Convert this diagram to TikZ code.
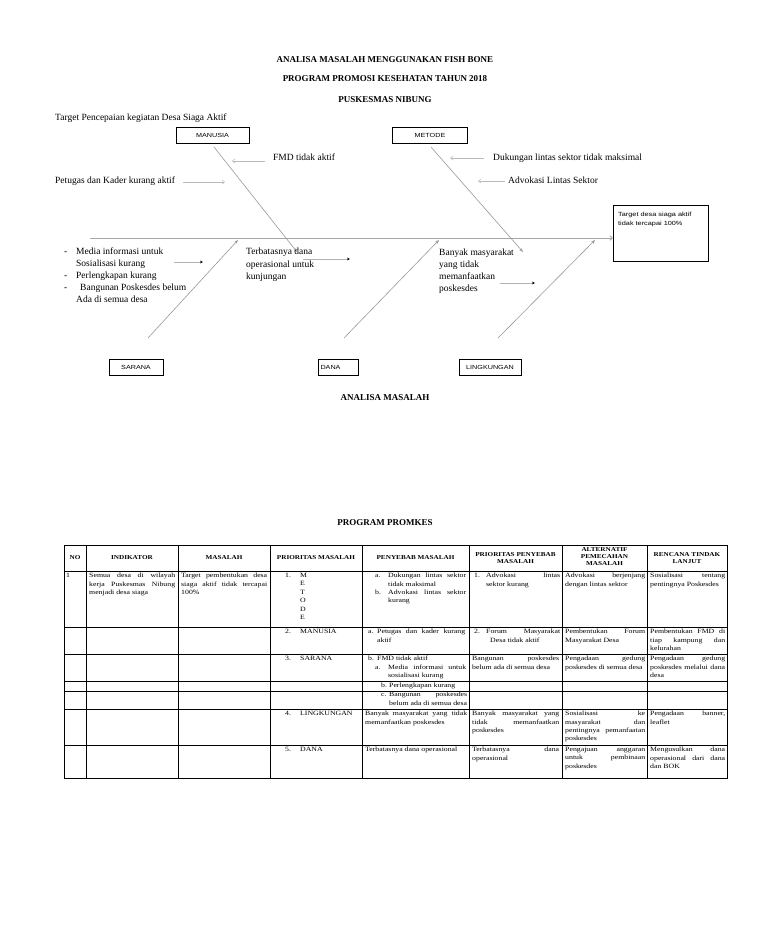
\documentclass[tikz,border=0pt]{standalone}
\usepackage{fontspec}
\setmainfont{Liberation Serif}
\newfontfamily\lblfont[FakeStretch=1.22]{Liberation Sans}
\newfontfamily\cellfont[FakeStretch=1.2]{Liberation Serif}
\usetikzlibrary{arrows.meta}
\hyphenpenalty=10000
\exhyphenpenalty=10000
\pretolerance=-1
\tolerance=9999
\hbadness=10000
\hfuzz=20pt
\newcommand{\litem}[3]{\noindent\hangindent=#1\hangafter=1\makebox[#1][l]{#2}#3\par}
\begin{document}
\begin{tikzpicture}[x=1pt,y=-1pt,
  ttl/.style={font=\fontsize{9}{10}\selectfont\bfseries, inner sep=0},
  fbt/.style={font=\fontsize{9.5}{12}\selectfont, inner sep=0, anchor=west, text height=6.6pt, text depth=2pt},
  cat/.style={draw, line width=0.7pt, font=\lblfont\fontsize{5.9}{6}\selectfont, inner sep=0, minimum height=16pt},
  tgt/.style={font=\lblfont\fontsize{6}{6}\selectfont, inner sep=0, anchor=west},
  bone/.style={draw=gray!80, line width=0.6pt, -{Stealth[length=4pt,width=3pt]}},
  spine/.style={draw=gray!70, line width=0.9pt, -{Straight Barb[length=2.5pt,width=4.5pt]}},
  tarr/.style={draw=gray!55, line width=0.5pt, -{Straight Barb[length=2.5pt,width=4pt]}},
  darr/.style={draw=gray!60, line width=0.5pt, -{Stealth[length=3pt,width=2.8pt,color=black]}},
  grid/.style={line width=0.8pt},
  cell/.style={font=\cellfont\fontsize{6.5}{8.4}\selectfont, inner sep=0, anchor=north west, align=justify},
  plain/.style={font=\cellfont\fontsize{6.5}{8.4}\selectfont, inner sep=0, anchor=north west, align=left},
  hd/.style={font=\cellfont\fontsize{6}{7.4}\selectfont\bfseries, inner sep=0, align=center}]
\useasboundingbox (0,0) rectangle (768,932);
\fill[white] (0,0) rectangle (768,932);

% ---------- titles ----------
\node[ttl] (t1) at (385,60) {ANALISA MASALAH MENGGUNAKAN FISH BONE};
\node[ttl] (t2) at (385,79) {PROGRAM PROMOSI KESEHATAN TAHUN 2018};
\node[ttl] (t3) at (385,100) {PUSKESMAS NIBUNG};
\node[fbt] (goal) at (55,118) {Target Pencepaian kegiatan Desa Siaga Aktif};

% ---------- category boxes ----------
\node[cat, minimum width=73pt] (manusia) at (212.5,135) {MANUSIA};
\node[cat, minimum width=75pt] (metode) at (430,135) {METODE};
\node[cat, minimum width=54pt] (sarana) at (136,367) {SARANA};
\node[cat, text width=35pt, inner xsep=2.5pt, align=left] (dana) at (338,367) {DANA};
\node[cat, minimum width=62pt] (lingk) at (490,367) {LINGKUNGAN};

% ---------- target box ----------
\node[draw, line width=0.8pt, minimum width=95pt, minimum height=56pt, anchor=north west, inner sep=0] (target) at (613,205) {};
\node[tgt] (tg1) at (618,215) {Target desa siaga aktif};
\node[tgt] (tg2) at (618,223.5) {tidak tercapai 100\%};

% ---------- spine ----------
\coordinate (tail) at (90,238);
\coordinate (head) at (target.west |- tail);
\draw[spine] (tail) -- (head);

% ---------- bones ----------
\coordinate (mA) at (214,147);  \coordinate (mB) at (297,252);
\coordinate (tA) at (431,147);  \coordinate (tB) at (523,252);
\coordinate (sA) at (148,338);  \coordinate (sB) at (238,240);
\coordinate (dA) at (344,338);  \coordinate (dB) at (439,240);
\coordinate (lA) at (498,338);  \coordinate (lB) at (595,240);
\draw[bone] (mA) -- (mB);
\draw[bone] (tA) -- (tB);
\draw[bone] (sA) -- (sB);
\draw[bone] (dA) -- (dB);
\draw[bone] (lA) -- (lB);

% ---------- upper causes ----------
\node[fbt] (fmd) at (273,158) {FMD tidak aktif};
\node[fbt] (ptg) at (55,181) {Petugas dan Kader kurang aktif};
\node[fbt] (dkg) at (493,158) {Dukungan lintas sektor tidak maksimal};
\node[fbt] (adv) at (508,181) {Advokasi Lintas Sektor};
\coordinate (fmdE) at (232,161);
\coordinate (ptgE) at (225,182);
\coordinate (dkgE) at (450,158);
\coordinate (advE) at (478,181);
\draw[tarr] ([xshift=-8pt]fmd.west |- fmdE) -- (fmdE);
\draw[tarr] ([xshift=8pt]ptg.east |- ptgE) -- (ptgE);
\draw[tarr] ([xshift=-9pt]dkg.west) -- (dkgE);
\draw[tarr] ([xshift=-3pt]adv.west) -- (advE);

% ---------- lower causes ----------
\node[fbt] (d1) at (64,252) {-};
\node[fbt] (s1) at (76,252) {Media informasi untuk};
\node[fbt] (s2) at (76,264) {Sosialisasi kurang};
\node[fbt] (d2) at (64,276) {-};
\node[fbt] (s3) at (76,276) {Perlengkapan kurang};
\node[fbt] (d3) at (64,288) {-};
\node[fbt] (s4) at (80,288) {Bangunan Poskesdes belum};
\node[fbt] (s5) at (76,300) {Ada di semua desa};

\node[fbt] (b1) at (246,252) {Terbatasnya dana};
\node[fbt] (b2) at (246,265) {operasional untuk};
\node[fbt] (b3) at (246,277) {kunjungan};

\node[fbt] (c1) at (439,253) {Banyak masyarakat};
\node[fbt] (c2) at (439,265) {yang tidak};
\node[fbt] (c3) at (439,277) {memanfaatkan};
\node[fbt] (c4) at (439,289) {poskesdes};

\coordinate (sarS) at (174,262);  \coordinate (sarE) at (203,262);
\coordinate (danS) at (303,259);  \coordinate (danE) at (350,259);
\coordinate (linS) at (500,283);  \coordinate (linE) at (535,283);
\draw[darr] (sarS) -- (sarE);
\draw[darr] (danS) -- (danE);
\draw[darr] (linS) -- (linE);

\node[ttl] (t4) at (385,398) {ANALISA MASALAH};

% ---------- table ----------
\node[ttl] (t5) at (385,523) {PROGRAM PROMKES};
\draw[grid] (64,545) rectangle (727,778);
\foreach \yy in {571,627,654,681,691,709,745} \draw[grid] (64,\yy) -- (727,\yy);
\foreach \xx in {86,178,270,362,469,562,647} \draw[grid] (\xx,545) -- (\xx,778);

\node[hd] (hno) at (75,558) {NO};
\node[hd] (hind) at (132,558) {INDIKATOR};
\node[hd] (hmas) at (224,558) {MASALAH};
\node[hd] (hpri) at (316,558) {PRIORITAS MASALAH};
\node[hd] (hpen) at (415.5,558) {PENYEBAB MASALAH};
\node[hd] (hpp) at (515.5,558) {PRIORITAS PENYEBAB\\MASALAH};
\node[hd] (halt) at (604.5,556.5) {ALTERNATIF\\PEMECAHAN\\MASALAH};
\node[hd] (hren) at (687,558) {RENCANA TINDAK\\LANJUT};

% row 1
\node[plain] (r1no) at (66,573) {1};
\node[cell, text width=86pt] (r1ind) at (89,573) {Semua desa di wilayah \linebreak kerja Puskesmas Nibung \linebreak menjadi desa siaga};
\node[cell, text width=86pt] (r1mas) at (181,573) {Target pembentukan desa \linebreak siaga aktif tidak tercapai \linebreak 100\%};
\node[plain] (r1pl) at (285,573) {1.};
\node[plain] (r1pri) at (300,573) {M\\E\\T\\O\\D\\E};
\node[cell, text width=91pt] (r1pen) at (375,573) {\litem{13pt}{a.}{Dukungan lintas sektor \linebreak tidak maksimal}\litem{13pt}{b.}{Advokasi lintas sektor \linebreak kurang}};
\node[cell, text width=86pt] (r1pp) at (474,573) {\litem{12pt}{1.}{Advokasi lintas \linebreak sektor kurang}};
\node[cell, text width=80pt] (r1alt) at (565,573) {Advokasi berjenjang \linebreak dengan lintas sektor};
\node[cell, text width=75pt] (r1ren) at (650,573) {Sosialisasi tentang \linebreak pentingnya Poskesdes};

% row 2
\node[plain] (r2pl) at (285,629) {2.};
\node[plain] (r2pri) at (300,629) {MANUSIA};
\node[cell, text width=97pt] (r2pen) at (368,629) {\litem{9pt}{a.}{Petugas dan kader kurang \linebreak aktif}};
\node[cell, text width=86pt] (r2pp) at (474,629) {\litem{12pt}{2.}{Forum Masyarakat \linebreak \hspace*{4pt}Desa tidak aktif}};
\node[cell, text width=80pt] (r2alt) at (565,629) {Pembentukan Forum \linebreak Masyarakat Desa};
\node[cell, text width=75pt] (r2ren) at (650,629) {Pembentukan FMD di \linebreak tiap kampung dan \linebreak kelurahan};

% row 3
\node[plain] (r3pl) at (285,656) {3.};
\node[plain] (r3pri) at (300,656) {SARANA};
\node[cell, text width=97pt] (r3pen) at (368,656) {\litem{9pt}{b.}{FMD tidak aktif}};
\node[cell, text width=91pt] (r3pen2) at (375,664.4) {\litem{13pt}{a.}{Media informasi untuk \linebreak sosialisasi kurang}};
\node[cell, text width=87pt] (r3pp) at (472,656) {Bangunan poskesdes \linebreak belum ada di semua desa};
\node[cell, text width=80pt] (r3alt) at (565,656) {Pengadaan gedung \linebreak poskesdes di semua desa};
\node[cell, text width=75pt] (r3ren) at (650,656) {Pengadaan gedung \linebreak poskesdes melalui dana \linebreak desa};

% row 4
\node[cell, text width=85pt] (r4pen) at (381,682.5) {\litem{8pt}{b.}{Perlengkapan kurang}};
% row 5
\node[cell, text width=86pt] (r5pen) at (381,692) {\litem{8pt}{c.}{Bangunan poskesdes \linebreak belum ada di semua desa}};

% row 6
\node[plain] (r6pl) at (285,711) {4.};
\node[plain] (r6pri) at (300,711) {LINGKUNGAN};
\node[cell, text width=102pt] (r6pen) at (365,711) {Banyak masyarakat yang tidak \linebreak memanfaatkan poskesdes};
\node[cell, text width=87pt] (r6pp) at (472,711) {Banyak masyarakat yang \linebreak tidak memanfaatkan \linebreak poskesdes};
\node[cell, text width=80pt] (r6alt) at (565,711) {Sosialisasi ke \linebreak masyarakat dan \linebreak pentingnya pemanfaatan \linebreak poskesdes};
\node[cell, text width=75pt] (r6ren) at (650,711) {Pengadaan banner, \linebreak leaflet};

% row 7
\node[plain] (r7pl) at (285,747) {5.};
\node[plain] (r7pri) at (300,747) {DANA};
\node[cell, text width=102pt] (r7pen) at (365,747) {Terbatasnya dana operasional};
\node[cell, text width=87pt] (r7pp) at (472,747) {Terbatasnya dana \linebreak operasional};
\node[cell, text width=80pt] (r7alt) at (565,747) {Pengajuan anggaran \linebreak untuk pembinaan \linebreak poskesdes};
\node[cell, text width=75pt] (r7ren) at (650,747) {Mengusulkan dana \linebreak operasional dari dana \linebreak dan BOK};
\end{tikzpicture}
\end{document}
